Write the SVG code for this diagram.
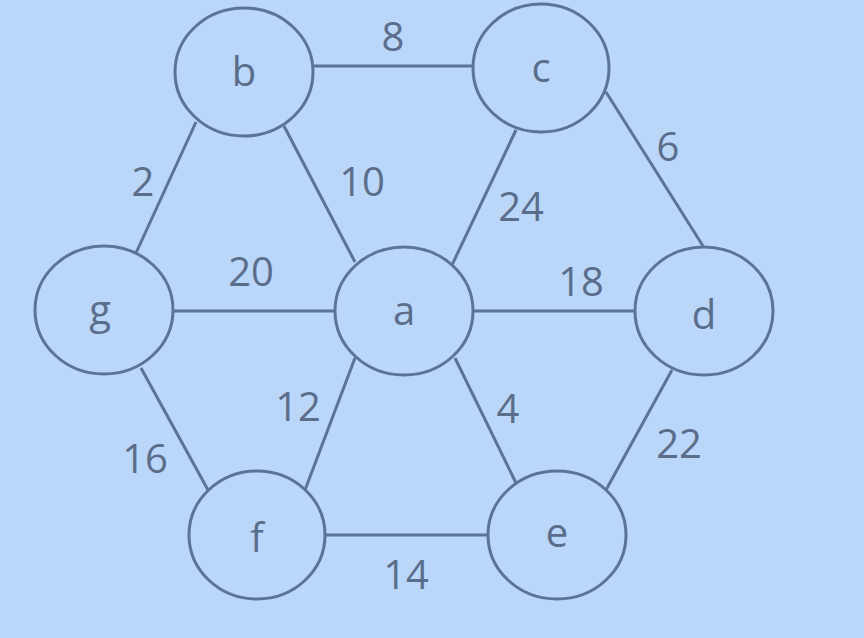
<svg xmlns="http://www.w3.org/2000/svg" width="864" height="638" viewBox="0 0 864 638">
<style>
.n ellipse{fill:#BAD6F8;stroke:#5B7396;stroke-width:3}
.e line{stroke:#5B7396;stroke-width:3}
text{font-family:"Open Sans","Liberation Sans",sans-serif;font-size:40px;fill:#5A6E8C;text-anchor:middle;dominant-baseline:central}
</style>
<rect width="864" height="638" fill="#BAD6F8"/>
<g id="connectors" class="e">
<line x1="313" y1="66" x2="473" y2="66"/>
<line x1="196" y1="122" x2="136" y2="253"/>
<line x1="284" y1="126" x2="355" y2="262"/>
<line x1="516" y1="130" x2="452" y2="265"/>
<line x1="606" y1="92" x2="703" y2="246"/>
<line x1="173" y1="311" x2="335" y2="311"/>
<line x1="473" y1="311" x2="635" y2="311"/>
<line x1="141" y1="368" x2="208" y2="490"/>
<line x1="355" y1="358" x2="305" y2="490"/>
<line x1="455" y1="358" x2="517" y2="485"/>
<line x1="672" y1="370" x2="606" y2="490"/>
<line x1="325" y1="535" x2="488" y2="535"/>
</g>
<g id="labels">
<text x="393" y="35">8</text><text x="668" y="145">6</text><text x="143" y="180">2</text>
<text x="362" y="180">10</text><text x="521" y="205">24</text><text x="251" y="270">20</text>
<text x="581" y="280">18</text><text x="298" y="405">12</text><text x="508" y="407">4</text>
<text x="145" y="457">16</text><text x="679" y="442">22</text><text x="406" y="573">14</text>
</g>
<g id="b" class="n"><ellipse cx="244" cy="72" rx="69" ry="64"/><text x="244" y="70">b</text></g>
<g id="c" class="n"><ellipse cx="541" cy="68" rx="68" ry="64"/><text x="541" y="66">c</text></g>
<g id="g" class="n"><ellipse cx="104" cy="310" rx="69" ry="64"/><text x="100" y="308">g</text></g>
<g id="a" class="n"><ellipse cx="404" cy="311" rx="69" ry="64"/><text x="404" y="309">a</text></g>
<g id="d" class="n"><ellipse cx="704" cy="311" rx="69" ry="64"/><text x="704" y="313">d</text></g>
<g id="f" class="n"><ellipse cx="257" cy="535" rx="68" ry="64"/><text x="257" y="536">f</text></g>
<g id="e" class="n"><ellipse cx="557" cy="535" rx="69" ry="64"/><text x="557" y="531">e</text></g>
</svg>
